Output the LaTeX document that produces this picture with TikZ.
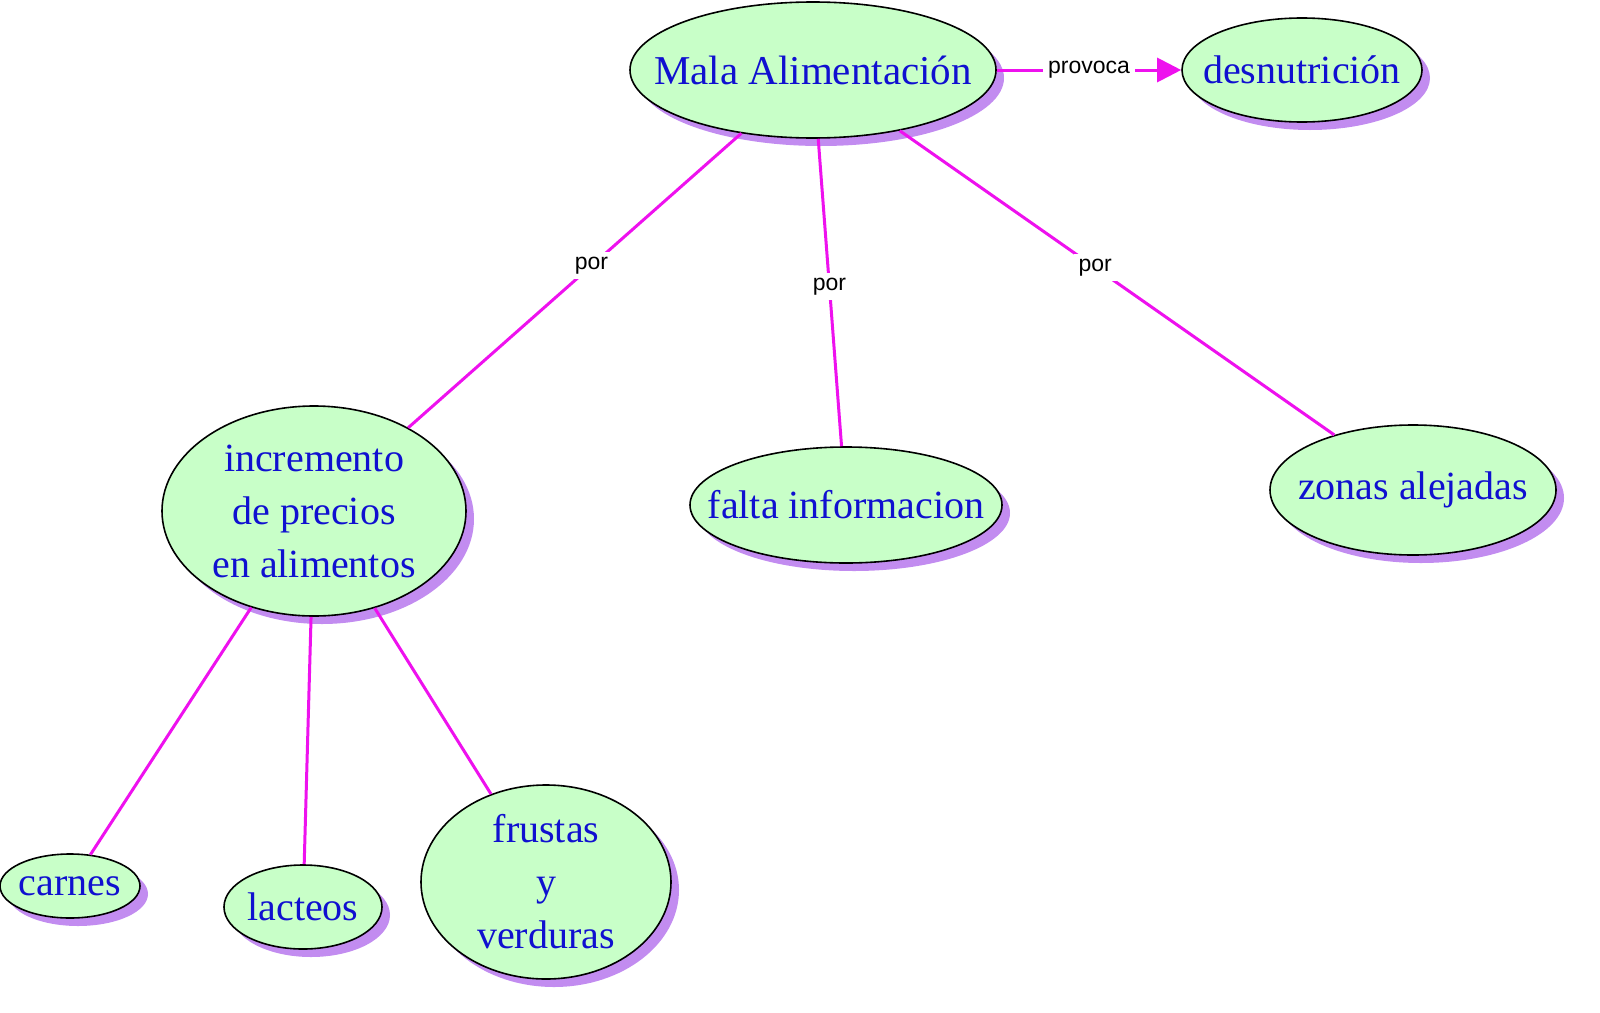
\documentclass[tikz,border=0pt]{standalone}
\usepackage{fontspec}
\setmainfont{Liberation Serif}
\newfontfamily\lblfont{Liberation Sans}
\usetikzlibrary{shapes.geometric,arrows.meta,shadows}
\definecolor{nodefill}{HTML}{C8FFC8}
\definecolor{shadowc}{HTML}{C28CF0}
\definecolor{edgec}{HTML}{EE11EE}
\definecolor{txtc}{HTML}{1010D0}
\tikzset{
  concept/.style={ellipse, draw=black, line width=0.8pt, fill=nodefill, inner sep=0pt,
    drop shadow={shadow xshift=4pt, shadow yshift=-4pt, fill=shadowc, opacity=1}},
  ctext/.style={text=txtc, font=\fontsize{20}{26.5}\selectfont, align=center, inner sep=0pt},
  link/.style={draw=edgec, line width=1.5pt},
  lbl/.style={fill=white, font=\lblfont\fontsize{11.5}{13}\selectfont, text=black, inner sep=2.5pt}
}
\begin{document}
\begin{tikzpicture}[x=0.5pt,y=-0.5pt]
\useasboundingbox (0,0) rectangle (1600,1012);
\node[concept, minimum width=183pt, minimum height=68pt] (mala) at (813,70) {};
\node[ctext, font=\fontsize{20.5}{26}\selectfont] (malat) at (mala) {Mala Alimentación};
\node[concept, minimum width=120pt, minimum height=52pt] (des) at (1302,70) {};
\node[ctext] (dest) at (des) {desnutrición};
\node[concept, minimum width=152pt, minimum height=105pt] (inc) at (314,511) {};
\node[ctext] (inct) at (inc) {incremento\\de precios\\en alimentos};
\node[concept, minimum width=156pt, minimum height=58pt] (fal) at (846,505) {};
\node[ctext] (falt) at (fal) {falta informacion};
\node[concept, minimum width=143pt, minimum height=65pt] (zon) at (1413,490) {};
\node[ctext] (zont) at (zon) {zonas alejadas};
\node[concept, minimum width=70pt, minimum height=32pt] (car) at (70,886) {};
\node[ctext] (cart) at (car) {carnes};
\node[concept, minimum width=79pt, minimum height=42pt] (lac) at (303,907) {};
\node[ctext] (lact) at (lac) {lacteos};
\node[concept, minimum width=125pt, minimum height=97pt] (fru) at (546,882) {};
\node[ctext] (frut) at (fru) {frustas\\y\\verduras};

\draw[link] (mala) -- node[lbl, pos=0.45] {por} (inc);
\draw[link] (mala) -- node[lbl, pos=0.48] {por} (fal);
\draw[link] (mala) -- node[lbl, pos=0.45] {por} (zon);
\draw[link, -{Triangle[length=12pt,width=12pt]}] (mala) -- node[lbl] {provoca} (des);
\draw[link] (inc) -- (car);
\draw[link] (inc) -- (lac);
\draw[link] (inc) -- (fru);
\end{tikzpicture}
\end{document}
